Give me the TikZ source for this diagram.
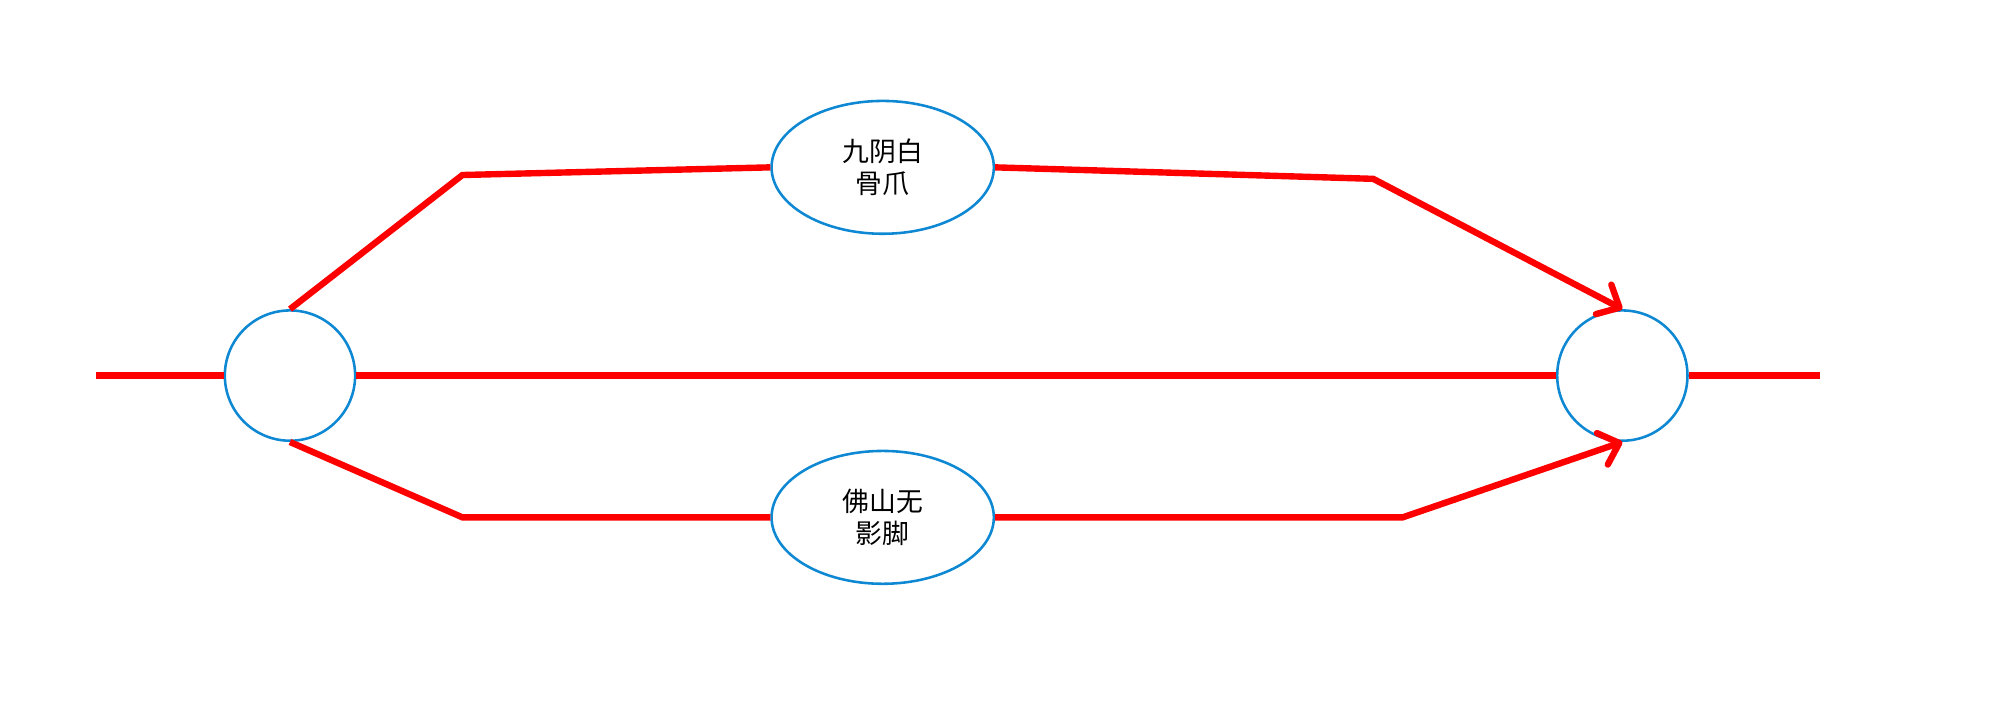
\documentclass[tikz,border=0pt]{standalone}
\usepackage{fontspec}
\newfontfamily\cjk{Noto Sans CJK SC}
\usetikzlibrary{shapes.geometric,arrows.meta}
\begin{document}
\begin{tikzpicture}[x=1pt,y=-1pt,
  circ/.style={circle,draw=cyan!70!blue,line width=2pt,minimum size=102pt,inner sep=0pt},
  ell/.style={ellipse,draw=cyan!70!blue,line width=2pt,minimum width=174pt,minimum height=104pt,inner sep=0pt,align=center,font=\cjk\fontsize{21}{25}\selectfont},
  wire/.style={red,line width=5pt},
  arr/.style={wire,-{Straight Barb[length=14pt,width=26pt,line width=5pt,round]}}]
\useasboundingbox (0,0) rectangle (1568,558);
\node[circ] (L) at (227,294) {};
\node[circ] (R) at (1270,294) {};
\node[ell] (T) at (691,131) {九阴白\\骨爪};
\node[ell] (B) at (691,405) {佛山无\\影脚};
\coordinate (l0) at (75,294);
\coordinate (r0) at (1425,294);
\coordinate (t1) at (362,137);
\coordinate (t2) at (1075,140);
\coordinate (b1) at (362,405);
\coordinate (b2) at (1098,405);
\draw[wire] (l0) -- (L.west);
\draw[wire] (L.east) -- (R.west);
\draw[wire] (R.east) -- (r0);
\draw[wire] (L.north) -- (t1) -- (T.west);
\draw[arr] (T.east) -- (t2) -- (R.north);
\draw[wire] (L.south) -- (b1) -- (B.west);
\draw[arr] (B.east) -- (b2) -- (R.south);
\end{tikzpicture}
\end{document}
